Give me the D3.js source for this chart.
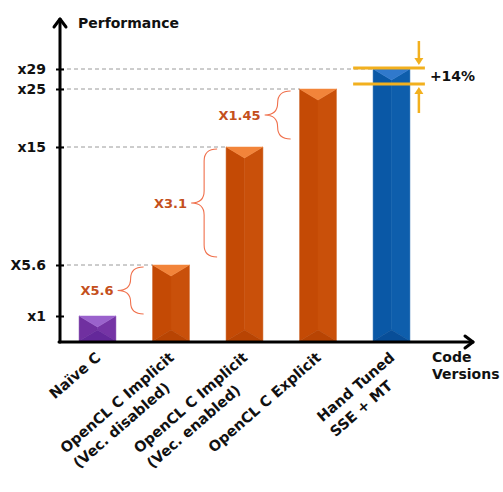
<!DOCTYPE html>
<html>
<head>
<meta charset="utf-8">
<script src="https://cdn.jsdelivr.net/npm/d3@7"></script>
<style>
  html, body { margin: 0; padding: 0; background: #fff; }
  svg { display: block; font-family: Verdana, "DejaVu Sans", sans-serif; font-weight: bold; }
</style>
</head>
<body>
<div id="chart"></div>
<script>
// data ----------------------------------------------------------------------
const categories = [
  ['Naïve C'],
  ['OpenCL C Implicit', '(Vec. disabled)'],
  ['OpenCL C Implicit', '(Vec. enabled)'],
  ['OpenCL C Explicit'],
  ['Hand Tuned', 'SSE + MT']
];
const speedups = [1, 5.6, 15, 25, 29];
const tickLabels = ['x1', 'X5.6', 'x15', 'x25', 'x29'];
const stepLabels = ['X5.6', 'X3.1', 'X1.45'];   // gain between neighbour bars
const handTunedGain = '+14%';
const barKinds = ['purple', 'orange', 'orange', 'orange', 'blue'];

// layout --------------------------------------------------------------------
const W = 503, H = 492;
const axisX = 60, axisY = 342;
// the original axis is drawn by hand, not to scale: height above the axis per stop
const stopHeights = [0, 26, 77, 195, 253, 273];

const palette = {
  purple: {top: '#9a62cc', left: '#7030a0', right: '#7534a5', bottom: '#64289a'},
  orange: {top: '#f2843a', left: '#c44a05', right: '#c9500a', bottom: '#b84403'},
  blue:   {top: '#3079cc', left: '#0a58a6', right: '#0e5eac', bottom: '#084e98'}
};
const braceColor = '#f0704c';
const braceText = '#c4501c';
const gold = '#f2b01e';

const svg = d3.select('#chart').append('svg')
  .attr('width', W)
  .attr('height', H);

// scales --------------------------------------------------------------------
const y = d3.scaleLinear()
  .domain([0, ...speedups])
  .range(stopHeights.map(h => axisY - h));
const x = d3.scaleBand()
  .domain(d3.range(categories.length))
  .range([axisX, 429])
  .paddingInner(0.5)
  .paddingOuter(0.26);
const bw = x.bandwidth();

// dashed guide lines -----------------------------------------------------------
svg.append('g')
  .selectAll('line')
  .data(speedups.slice(1))
  .join('line')
  .attr('x1', axisX)
  .attr('x2', (d, i) => x(i + 1))
  .attr('y1', d => y(d))
  .attr('y2', d => y(d))
  .attr('stroke', '#9a9a9a')
  .attr('stroke-width', 1)
  .attr('stroke-dasharray', '4,3');

// bars (bevelled look: four facets) -------------------------------------------
const bars = svg.append('g')
  .selectAll('g')
  .data(speedups)
  .join('g');
bars.each(function (v, i) {
  const g = d3.select(this);
  const x0 = x(i), x1 = x0 + bw, cx = x0 + bw / 2;
  const yt = y(v), yb = axisY - 1;
  const b = Math.min(11, (yb - yt) / 2);
  const col = palette[barKinds[i]];
  const faces = [
    {c: col.left, p: [[x0, yt], [cx, yt + b], [cx, yb - b], [x0, yb]]},
    {c: col.right, p: [[x1, yt], [cx, yt + b], [cx, yb - b], [x1, yb]]},
    {c: col.bottom, p: [[x0, yb], [x1, yb], [cx, yb - b]]},
    {c: col.top, p: [[x0, yt], [x1, yt], [cx, yt + b]]}
  ];
  g.selectAll('path')
    .data(faces)
    .join('path')
    .attr('d', f => 'M' + f.p.map(q => q.join(',')).join('L') + 'Z')
    .attr('fill', f => f.c)
    .attr('stroke', f => f.c)
    .attr('stroke-width', 0.5);
});

// braces with step ratios ----------------------------------------------------
const bracePath = (xe, xt, y0, y1) => {
  const xm = (xe + xt) / 2, ym = (y0 + y1) / 2;
  const r = Math.min(12, (y1 - y0) / 4);
  return `M${xe},${y0}Q${xm},${y0} ${xm},${y0 + r}L${xm},${ym - r}Q${xm},${ym} ${xt},${ym}`
    + `Q${xm},${ym} ${xm},${ym + r}L${xm},${y1 - r}Q${xm},${y1} ${xe},${y1}`;
};
const braces = svg.append('g')
  .selectAll('g')
  .data(stepLabels)
  .join('g');
braces.append('path')
  .attr('d', (d, i) => {
    const xe = x(i + 1) - 9;
    return bracePath(xe, xe - 26, y(speedups[i + 1]) + 2, y(speedups[i]) - (i === 0 ? 2 : 8));
  })
  .attr('fill', 'none')
  .attr('stroke', braceColor)
  .attr('stroke-width', 1.1);
braces.append('text')
  .attr('x', (d, i) => x(i + 1) - 9 - 26 - 4)
  .attr('y', (d, i) => (y(speedups[i + 1]) + 2 + y(speedups[i]) - (i === 0 ? 2 : 8)) / 2)
  .attr('dy', '0.35em')
  .attr('text-anchor', 'end')
  .attr('font-size', 13)
  .attr('fill', braceText)
  .text(d => d);

// hand tuned gain marker --------------------------------------------------------
const last = speedups.length - 1;
const gx0 = x(last) - 20, gx1 = x(last) + bw + 15, gArrowX = gx1 - 6;
const gTop = y(speedups[last]) - 1, gBot = y(speedups[last - 1]) - 5;
const gain = svg.append('g');
gain.selectAll('line.lvl')
  .data([gTop, gBot])
  .join('line')
  .attr('class', 'lvl')
  .attr('x1', gx0).attr('x2', gx1)
  .attr('y1', d => d).attr('y2', d => d)
  .attr('stroke', gold)
  .attr('stroke-width', 3);
const arrows = [
  {from: gTop - 27, to: gTop - 3},
  {from: gBot + 29, to: gBot + 3}
];
gain.selectAll('line.arr')
  .data(arrows)
  .join('line')
  .attr('class', 'arr')
  .attr('x1', gArrowX).attr('x2', gArrowX)
  .attr('y1', d => d.from)
  .attr('y2', d => d.to + (d.to > d.from ? -5 : 5))
  .attr('stroke', gold)
  .attr('stroke-width', 2.5);
gain.selectAll('path')
  .data(arrows)
  .join('path')
  .attr('d', d => {
    const s = d.to > d.from ? -1 : 1;
    return `M${gArrowX - 4.5},${d.to + s * 7}L${gArrowX + 4.5},${d.to + s * 7}L${gArrowX},${d.to}Z`;
  })
  .attr('fill', gold);
gain.append('text')
  .attr('x', gx1 + 5)
  .attr('y', (gTop + gBot) / 2)
  .attr('dy', '0.35em')
  .attr('font-size', 14)
  .attr('fill', '#111')
  .text(handTunedGain);

// axes ------------------------------------------------------------------------
const yAxis = svg.append('g')
  .attr('transform', `translate(${axisX},0)`)
  .call(d3.axisLeft(y)
    .tickValues(speedups)
    .tickFormat((d, i) => tickLabels[i])
    .tickSize(4)
    .tickPadding(10));
yAxis.select('.domain').remove();
yAxis.selectAll('.tick line')
  .attr('x1', -4).attr('x2', 4)
  .attr('stroke', '#000')
  .attr('stroke-width', 2);
yAxis.selectAll('.tick text')
  .attr('font-size', 14)
  .attr('font-family', 'Verdana, "DejaVu Sans", sans-serif')
  .attr('font-weight', 'bold')
  .attr('fill', '#111');

const axes = svg.append('g')
  .attr('stroke', '#000')
  .attr('stroke-width', 3)
  .attr('fill', 'none')
  .attr('stroke-linecap', 'round')
  .attr('stroke-linejoin', 'round');
axes.append('path').attr('d', `M${axisX},${axisY}V19`);
axes.append('path').attr('d', `M${axisX - 6},27L${axisX},19L${axisX + 6},27`);
axes.append('path').attr('d', `M${axisX - 1},${axisY}H473`);
axes.append('path').attr('d', `M465,${axisY - 6}L473,${axisY}L465,${axisY + 6}`);

svg.append('text')
  .attr('x', 78)
  .attr('y', 28)
  .attr('font-size', 14)
  .attr('fill', '#111')
  .text('Performance');

svg.append('text')
  .attr('x', 432)
  .attr('y', 362)
  .attr('font-size', 14)
  .attr('fill', '#111')
  .selectAll('tspan')
  .data(['Code', 'Versions'])
  .join('tspan')
  .attr('x', 432)
  .attr('dy', (d, i) => i ? 17 : 0)
  .text(d => d);

// category labels, rotated ------------------------------------------------------
const labels = svg.append('g')
  .selectAll('g')
  .data(categories)
  .join('g')
  .attr('transform', (d, i) => `translate(${x(i) + bw / 2 + 4},${axisY + 17}) rotate(-41)`);
labels.each(function (lines) {
  const g = d3.select(this);
  const first = g.append('text')
    .attr('text-anchor', 'end')
    .attr('font-size', 14.5)
    .attr('fill', '#111')
    .text(lines[0]);
  const len = first.node().getComputedTextLength();
  lines.slice(1).forEach((t, k) => {
    g.append('text')
      .attr('x', -len)
      .attr('y', 20 * (k + 1))
      .attr('font-size', 14.5)
      .attr('fill', '#111')
      .text(t);
  });
});
</script>
</body>
</html>
